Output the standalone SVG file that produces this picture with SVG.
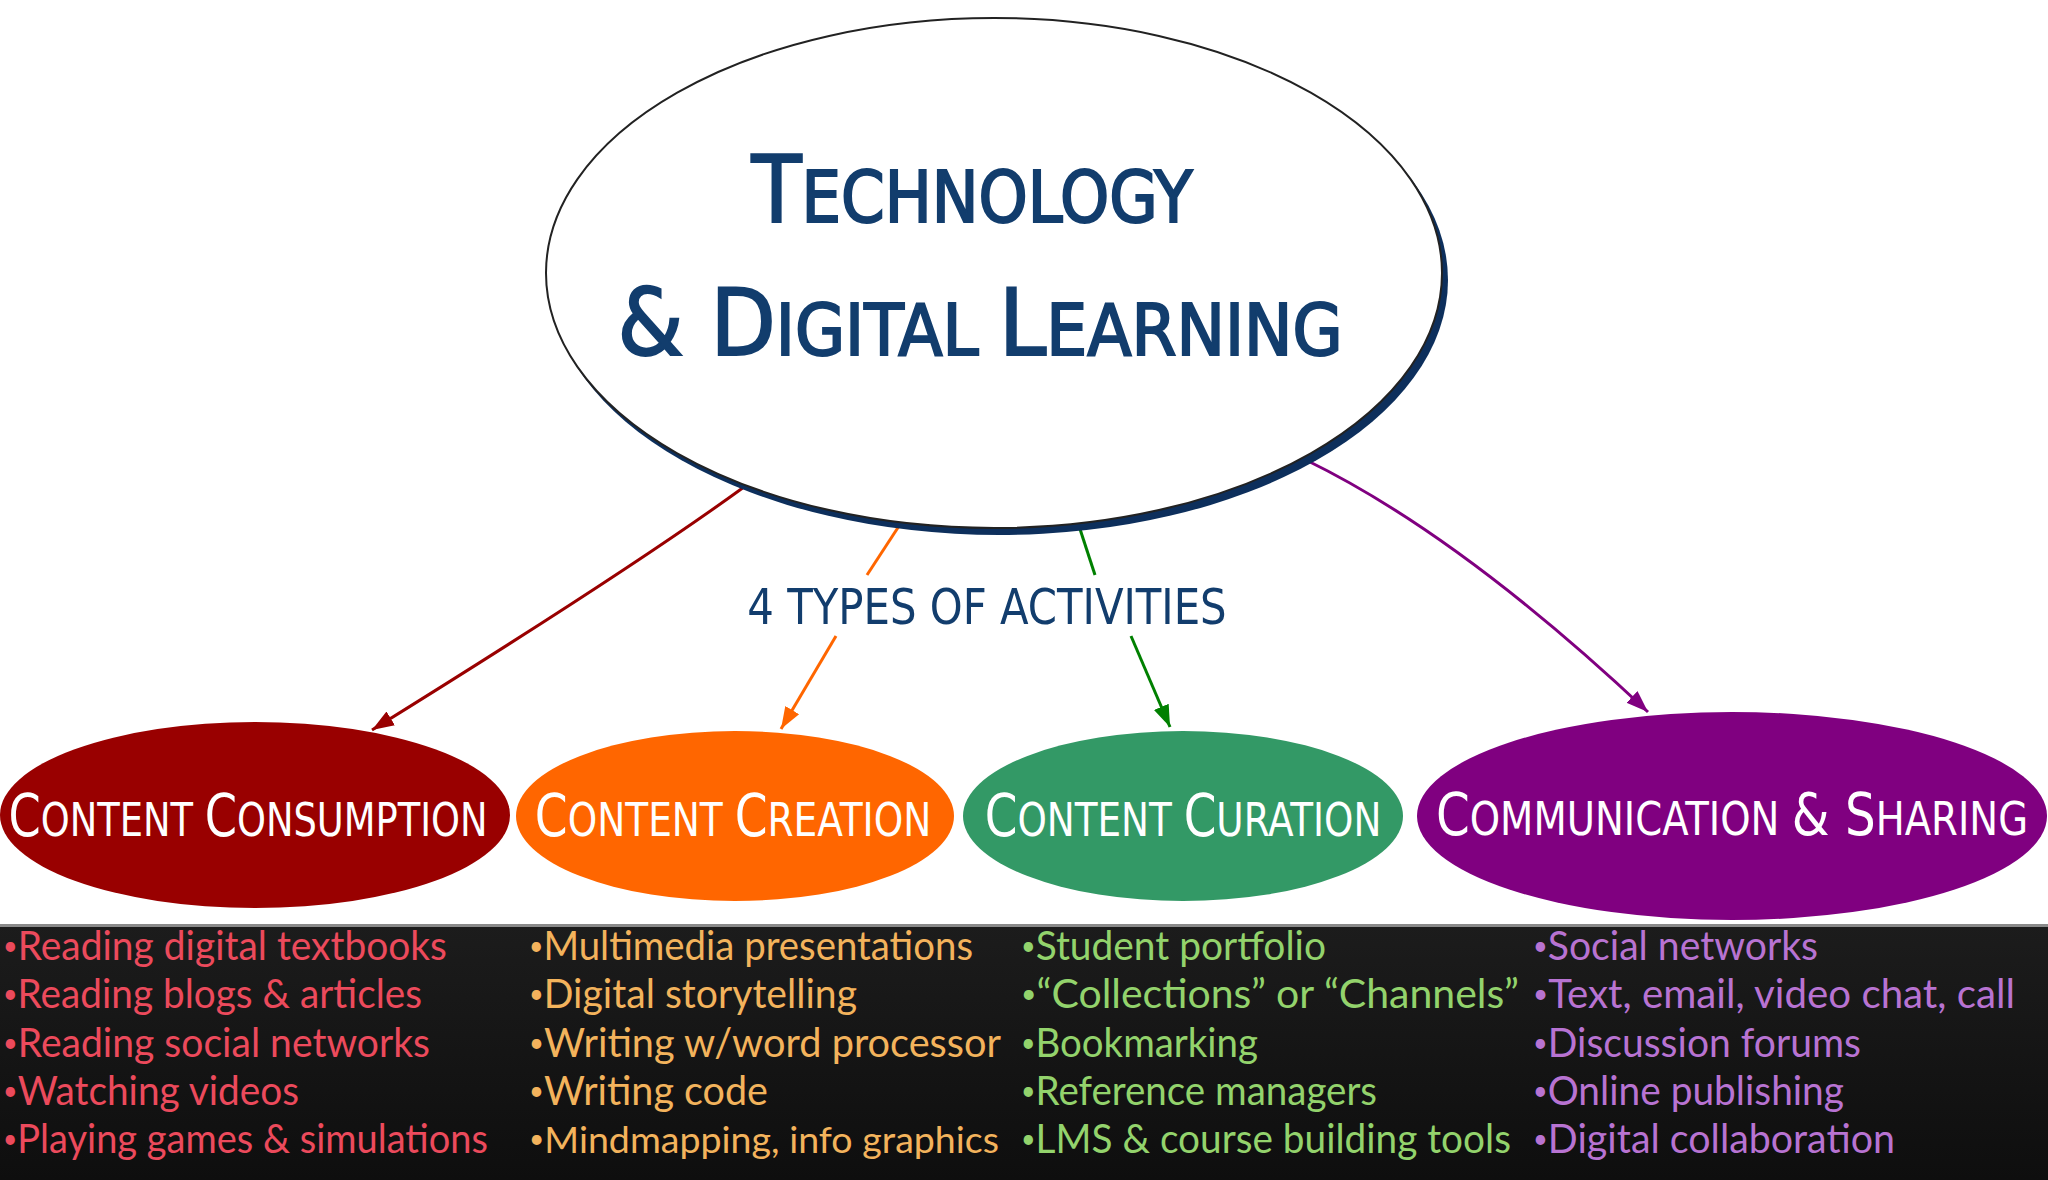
<svg xmlns="http://www.w3.org/2000/svg" width="2048" height="1180" viewBox="0 0 2048 1180">
<defs>
<style>
.hand{font-family:"DejaVu Sans Condensed","DejaVu Sans",sans-serif;font-weight:normal;}
.title{fill:#123d6d;stroke:#123d6d;stroke-width:2;}
.lab{fill:#ffffff;}
.item{font-family:"Lato","Open Sans",sans-serif;font-size:40px;}
.b{font-size:26px;baseline-shift:5px;}
.c1{fill:#ec4a5c;}.c2{fill:#f3b35c;}.c3{fill:#93d36c;}.c4{fill:#b873d2;}
.conn{fill:none;stroke-width:3;}
</style>
<marker id="aRed" markerUnits="userSpaceOnUse" markerWidth="24" markerHeight="18" refX="22" refY="9" orient="auto"><path d="M0,1 L22,9 L0,17 z" fill="#990000"/></marker>
<marker id="aOrange" markerUnits="userSpaceOnUse" markerWidth="24" markerHeight="18" refX="22" refY="9" orient="auto"><path d="M0,1 L22,9 L0,17 z" fill="#ff6600"/></marker>
<marker id="aGreen" markerUnits="userSpaceOnUse" markerWidth="24" markerHeight="18" refX="22" refY="9" orient="auto"><path d="M0,1 L22,9 L0,17 z" fill="#008000"/></marker>
<marker id="aPurple" markerUnits="userSpaceOnUse" markerWidth="24" markerHeight="18" refX="22" refY="9" orient="auto"><path d="M0,1 L22,9 L0,17 z" fill="#800080"/></marker>
<linearGradient id="band" x1="0" y1="0" x2="0" y2="1"><stop offset="0" stop-color="#1c1c1c"/><stop offset="1" stop-color="#0e0e0e"/></linearGradient>
</defs>
<rect width="2048" height="1180" fill="#ffffff"/>

<g id="connectors">
<path class="conn" stroke="#990000" d="M744,487 Q630,570 372,730" marker-end="url(#aRed)"/>
<path class="conn" stroke="#ff6600" d="M899,526 L867,575"/>
<path class="conn" stroke="#ff6600" d="M836,636 L781,729" marker-end="url(#aOrange)"/>
<path class="conn" stroke="#008000" d="M1079,526 L1095,575"/>
<path class="conn" stroke="#008000" d="M1131,636 L1170,727" marker-end="url(#aGreen)"/>
<path class="conn" stroke="#800080" d="M1306,460 Q1460,535 1648,712" marker-end="url(#aPurple)"/>
</g>

<g id="main">
<ellipse cx="999" cy="280" rx="449" ry="255" fill="#0d2f5c"/>
<ellipse cx="994" cy="273" rx="448" ry="255" fill="#ffffff" stroke="#222222" stroke-width="2"/>
<text class="hand title" transform="translate(972,222) scale(0.979,1)" text-anchor="middle"><tspan font-size="93">T</tspan><tspan font-size="71">ECHNOLOGY</tspan></text>
<text class="hand title" transform="translate(980,355) scale(1.014,1)" text-anchor="middle"><tspan font-size="93">&amp; D</tspan><tspan font-size="71">IGITAL </tspan><tspan font-size="93">L</tspan><tspan font-size="71">EARNING</tspan></text>
</g>

<g id="label">
<text class="hand" fill="#123d6d" transform="translate(987,624) scale(0.93,1)" font-size="50" text-anchor="middle">4 TYPES OF ACTIVITIES</text>
</g>

<g id="consumption">
<ellipse cx="255" cy="815" rx="255" ry="93" fill="#990000"/>
<text class="hand lab" transform="translate(248,836) scale(0.871,1)" text-anchor="middle"><tspan font-size="59">C</tspan><tspan font-size="47">ONTENT </tspan><tspan font-size="59">C</tspan><tspan font-size="47">ONSUMPTION</tspan></text>
</g>
<g id="creation">
<ellipse cx="735" cy="816" rx="219" ry="85" fill="#ff6600"/>
<text class="hand lab" transform="translate(733,836) scale(0.887,1)" text-anchor="middle"><tspan font-size="59">C</tspan><tspan font-size="47">ONTENT </tspan><tspan font-size="59">C</tspan><tspan font-size="47">REATION</tspan></text>
</g>
<g id="curation">
<ellipse cx="1183" cy="816" rx="220" ry="85" fill="#339966"/>
<text class="hand lab" transform="translate(1183,836) scale(0.883,1)" text-anchor="middle"><tspan font-size="59">C</tspan><tspan font-size="47">ONTENT </tspan><tspan font-size="59">C</tspan><tspan font-size="47">URATION</tspan></text>
</g>
<g id="communication">
<ellipse cx="1732" cy="816" rx="315" ry="104" fill="#800080"/>
<text class="hand lab" transform="translate(1732,835) scale(0.913,1)" text-anchor="middle"><tspan font-size="59">C</tspan><tspan font-size="47">OMMUNICATION </tspan><tspan font-size="59">&amp; S</tspan><tspan font-size="47">HARING</tspan></text>
</g>

<g id="lists">
<rect x="0" y="925" width="2048" height="255" fill="url(#band)"/>
<rect x="0" y="924" width="2048" height="3" fill="#8a8a8a"/>
<g class="item c1">
<text x="3" y="960" textLength="444" lengthAdjust="spacingAndGlyphs"><tspan class="b">•</tspan>Reading digital textbooks</text>
<text x="3" y="1008" textLength="419" lengthAdjust="spacingAndGlyphs"><tspan class="b">•</tspan>Reading blogs &amp; articles</text>
<text x="3" y="1057" textLength="427" lengthAdjust="spacingAndGlyphs"><tspan class="b">•</tspan>Reading social networks</text>
<text x="3" y="1105" textLength="296" lengthAdjust="spacingAndGlyphs"><tspan class="b">•</tspan>Watching videos</text>
<text x="3" y="1153" textLength="485" lengthAdjust="spacingAndGlyphs"><tspan class="b">•</tspan>Playing games &amp; simulations</text>
</g>
<g class="item c2">
<text x="529" y="960" textLength="444" lengthAdjust="spacingAndGlyphs"><tspan class="b">•</tspan>Multimedia presentations</text>
<text x="529" y="1008" textLength="328" lengthAdjust="spacingAndGlyphs"><tspan class="b">•</tspan>Digital storytelling</text>
<text x="529" y="1057" textLength="472" lengthAdjust="spacingAndGlyphs"><tspan class="b">•</tspan>Writing w/word processor</text>
<text x="529" y="1105" textLength="239" lengthAdjust="spacingAndGlyphs"><tspan class="b">•</tspan>Writing code</text>
<text x="529" y="1153" font-size="37" textLength="470" lengthAdjust="spacingAndGlyphs"><tspan class="b">•</tspan>Mindmapping, info graphics</text>
</g>
<g class="item c3">
<text x="1021" y="960" textLength="305" lengthAdjust="spacingAndGlyphs"><tspan class="b">•</tspan>Student portfolio</text>
<text x="1021" y="1008" textLength="498" lengthAdjust="spacingAndGlyphs"><tspan class="b">•</tspan>“Collections” or “Channels”</text>
<text x="1021" y="1057" textLength="237" lengthAdjust="spacingAndGlyphs"><tspan class="b">•</tspan>Bookmarking</text>
<text x="1021" y="1105" textLength="356" lengthAdjust="spacingAndGlyphs"><tspan class="b">•</tspan>Reference managers</text>
<text x="1021" y="1153" textLength="490" lengthAdjust="spacingAndGlyphs"><tspan class="b">•</tspan>LMS &amp; course building tools</text>
</g>
<g class="item c4">
<text x="1533" y="960" textLength="285" lengthAdjust="spacingAndGlyphs"><tspan class="b">•</tspan>Social networks</text>
<text x="1533" y="1008" textLength="482" lengthAdjust="spacingAndGlyphs"><tspan class="b">•</tspan>Text, email, video chat, call</text>
<text x="1533" y="1057" textLength="328" lengthAdjust="spacingAndGlyphs"><tspan class="b">•</tspan>Discussion forums</text>
<text x="1533" y="1105" textLength="311" lengthAdjust="spacingAndGlyphs"><tspan class="b">•</tspan>Online publishing</text>
<text x="1533" y="1153" textLength="362" lengthAdjust="spacingAndGlyphs"><tspan class="b">•</tspan>Digital collaboration</text>
</g>
</g>
</svg>
